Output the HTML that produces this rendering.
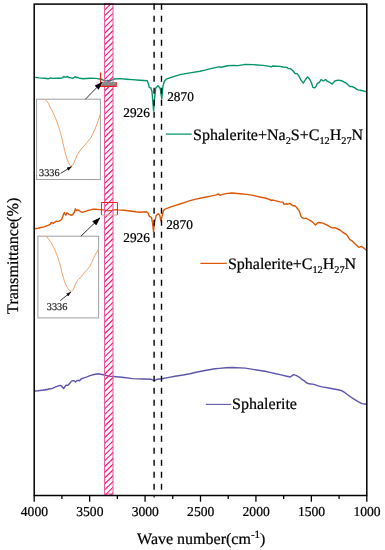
<!DOCTYPE html><html><head><meta charset="utf-8"><title>FTIR spectra</title><style>html,body{margin:0;padding:0;background:#fff;}svg{display:block;text-rendering:geometricPrecision;}</style></head><body><svg width="385" height="550" viewBox="0 0 385 550"><defs><clipPath id="band"><rect x="104.6" y="3.75" width="8.4" height="491.5"/></clipPath><marker id="ah" viewBox="0 0 10 7" refX="9.5" refY="3.5" markerWidth="8.4" markerHeight="5.9" orient="auto" markerUnits="userSpaceOnUse"><path d="M0,0 L10,3.5 L0,7 z" fill="#000"/></marker><marker id="ahs" viewBox="0 0 10 7" refX="9.5" refY="3.5" markerWidth="5.2" markerHeight="3.64" orient="auto" markerUnits="userSpaceOnUse"><path d="M0,0 L10,3.5 L0,7 z" fill="#111"/></marker></defs><rect width="385" height="550" fill="#fff"/><polyline points="35.0,77.4 39.2,77.9 44.4,78.2 48.6,78.7 50.7,77.9 52.7,78.4 56.9,78.2 60.5,78.3 62.0,77.9 64.0,76.5 65.5,77.3 67.0,76.5 69.0,77.5 71.0,77.9 73.0,78.3 75.0,76.7 76.5,77.7 77.5,77.3 80.0,78.3 83.0,78.8 90.0,78.3 96.0,78.4 101.2,79.2 103.1,80.0 106.2,81.1 107.8,80.3 109.9,81.1 112.0,79.8 114.5,79.0 120.0,78.6 126.6,79.2 132.0,79.6 140.0,80.3 147.2,80.8 148.6,84.5 149.3,87.4 150.9,88.0 152.0,91.8 153.6,110.9 154.7,97.3 155.8,88.0 158.0,85.8 160.2,88.5 161.8,98.9 162.9,86.4 164.4,81.3 166.2,79.2 170.4,77.7 180.0,74.6 190.0,72.9 200.0,71.3 205.0,70.1 210.6,68.6 217.7,67.1 219.0,66.6 221.0,67.3 227.5,65.8 234.0,65.4 238.0,65.6 245.5,64.4 253.0,64.6 263.0,65.4 270.0,66.4 271.0,67.0 272.5,66.0 280.0,66.4 283.0,67.0 287.0,67.4 288.0,68.4 290.6,68.8 293.2,71.0 295.1,73.6 297.1,73.6 299.0,76.2 301.0,80.1 303.3,83.1 305.5,79.5 307.5,76.9 309.4,78.8 311.4,82.7 312.9,87.3 314.6,87.9 315.9,86.6 317.2,83.4 319.2,82.7 321.1,79.5 323.1,81.0 325.7,79.5 327.6,81.4 329.6,82.3 332.2,84.0 334.8,81.0 338.2,80.1 342.0,80.8 346.0,83.1 349.9,86.6 351.8,86.4 354.4,87.7 357.7,89.9 361.6,90.5 366.1,91.6" fill="none" stroke="#04956a" stroke-width="1.4" stroke-linejoin="round"/><polyline points="35.0,228.8 38.0,228.2 42.0,227.3 44.0,226.9 46.0,226.1 48.0,225.3 50.2,224.4 51.0,222.7 52.0,222.8 53.5,223.2 55.0,222.2 56.0,221.1 57.5,221.5 59.0,221.1 60.5,220.3 61.5,219.4 62.5,217.3 63.5,214.4 64.3,212.4 65.8,215.2 67.0,212.8 68.7,214.1 71.2,215.3 72.8,214.5 74.5,212.0 75.3,208.8 76.6,210.7 78.2,209.9 80.0,211.2 82.0,212.4 84.5,211.6 87.0,210.8 90.3,209.9 93.0,209.2 95.0,209.2 100.0,209.6 104.0,209.9 108.0,210.9 112.0,210.4 116.0,209.6 118.0,209.9 124.0,210.3 130.0,211.0 136.0,211.8 140.0,212.2 146.2,211.8 147.8,212.7 149.4,216.3 150.4,216.8 151.5,217.4 152.5,223.0 153.5,231.4 154.6,222.0 156.1,215.8 158.2,213.7 159.8,215.3 160.8,221.0 162.4,214.8 163.4,210.6 165.5,208.8 171.0,206.8 175.0,205.6 180.0,204.0 185.0,202.3 190.0,200.6 196.0,199.1 205.0,197.3 212.0,195.9 216.5,194.9 218.2,193.9 220.0,195.3 222.0,194.6 225.8,193.6 232.0,193.0 240.0,193.8 247.0,194.4 253.0,195.4 260.0,197.0 265.0,198.0 270.0,199.5 271.0,200.6 272.0,200.0 275.0,200.6 280.0,201.9 283.0,202.3 284.0,204.4 286.0,203.8 288.0,204.2 290.0,203.4 292.0,205.1 294.0,206.0 295.0,205.6 297.0,208.0 299.0,210.6 300.0,213.2 301.0,216.4 302.0,217.7 304.0,218.6 306.0,218.1 307.5,219.0 310.0,220.3 312.0,221.6 314.0,223.6 315.5,224.9 318.0,222.5 322.0,222.9 325.0,224.2 328.0,225.5 330.0,226.8 332.3,228.0 334.9,227.6 340.0,230.0 342.1,231.8 346.6,234.7 349.9,239.6 352.5,241.2 355.7,244.4 358.7,247.3 361.3,246.4 364.2,248.3 366.4,250.3" fill="none" stroke="#dc5806" stroke-width="1.4" stroke-linejoin="round"/><polyline points="35.0,391.0 38.0,390.8 42.0,390.3 43.5,389.8 45.0,390.2 46.0,389.3 47.0,389.8 48.0,389.2 50.0,388.7 51.0,388.9 53.0,388.1 55.0,387.2 57.0,386.4 59.0,385.6 60.0,385.3 61.5,386.0 63.5,388.5 66.0,385.3 67.5,385.3 68.5,384.8 70.0,383.0 71.5,381.1 73.0,380.6 74.5,380.9 75.5,382.0 77.0,380.6 78.5,380.3 79.5,380.9 81.0,379.0 84.0,377.8 87.0,376.9 90.0,375.7 94.0,374.5 98.0,373.8 103.3,374.8 109.0,376.1 116.5,376.7 124.0,377.5 132.4,378.6 142.8,379.0 151.1,379.3 154.3,380.6 157.4,379.2 161.5,378.7 167.8,377.6 175.0,376.2 183.0,375.0 190.0,373.7 196.0,372.3 205.0,370.5 215.0,368.8 219.4,368.4 226.0,367.7 232.3,367.5 245.3,368.1 258.3,370.3 265.0,371.3 270.0,372.4 275.9,373.8 280.0,374.6 286.8,376.2 290.3,377.0 293.5,374.6 296.0,375.4 300.0,377.7 302.2,379.6 304.0,380.6 306.0,382.5 309.0,383.8 314.0,384.4 318.0,385.8 322.0,386.9 330.0,388.3 338.0,389.8 342.0,390.8 345.0,392.7 350.0,396.5 354.0,399.2 358.0,401.7 362.0,403.6 366.3,404.2" fill="none" stroke="#5e56ac" stroke-width="1.4" stroke-linejoin="round"/><g clip-path="url(#band)" stroke="#f0187a" stroke-width="1.15"><line x1="103.3" y1="-5.94" x2="114.5" y2="-17.14"/><line x1="103.3" y1="-0.16" x2="114.5" y2="-11.36"/><line x1="103.3" y1="5.62" x2="114.5" y2="-5.58"/><line x1="103.3" y1="11.40" x2="114.5" y2="0.20"/><line x1="103.3" y1="17.18" x2="114.5" y2="5.98"/><line x1="103.3" y1="22.96" x2="114.5" y2="11.76"/><line x1="103.3" y1="28.74" x2="114.5" y2="17.54"/><line x1="103.3" y1="34.52" x2="114.5" y2="23.32"/><line x1="103.3" y1="40.30" x2="114.5" y2="29.10"/><line x1="103.3" y1="46.08" x2="114.5" y2="34.88"/><line x1="103.3" y1="51.86" x2="114.5" y2="40.66"/><line x1="103.3" y1="57.64" x2="114.5" y2="46.44"/><line x1="103.3" y1="63.42" x2="114.5" y2="52.22"/><line x1="103.3" y1="69.20" x2="114.5" y2="58.00"/><line x1="103.3" y1="74.98" x2="114.5" y2="63.78"/><line x1="103.3" y1="80.76" x2="114.5" y2="69.56"/><line x1="103.3" y1="86.54" x2="114.5" y2="75.34"/><line x1="103.3" y1="92.32" x2="114.5" y2="81.12"/><line x1="103.3" y1="98.10" x2="114.5" y2="86.90"/><line x1="103.3" y1="103.88" x2="114.5" y2="92.68"/><line x1="103.3" y1="109.66" x2="114.5" y2="98.46"/><line x1="103.3" y1="115.44" x2="114.5" y2="104.24"/><line x1="103.3" y1="121.22" x2="114.5" y2="110.02"/><line x1="103.3" y1="127.00" x2="114.5" y2="115.80"/><line x1="103.3" y1="132.78" x2="114.5" y2="121.58"/><line x1="103.3" y1="138.56" x2="114.5" y2="127.36"/><line x1="103.3" y1="144.34" x2="114.5" y2="133.14"/><line x1="103.3" y1="150.12" x2="114.5" y2="138.92"/><line x1="103.3" y1="155.90" x2="114.5" y2="144.70"/><line x1="103.3" y1="161.68" x2="114.5" y2="150.48"/><line x1="103.3" y1="167.46" x2="114.5" y2="156.26"/><line x1="103.3" y1="173.24" x2="114.5" y2="162.04"/><line x1="103.3" y1="179.02" x2="114.5" y2="167.82"/><line x1="103.3" y1="184.80" x2="114.5" y2="173.60"/><line x1="103.3" y1="190.58" x2="114.5" y2="179.38"/><line x1="103.3" y1="196.36" x2="114.5" y2="185.16"/><line x1="103.3" y1="202.14" x2="114.5" y2="190.94"/><line x1="103.3" y1="207.92" x2="114.5" y2="196.72"/><line x1="103.3" y1="213.70" x2="114.5" y2="202.50"/><line x1="103.3" y1="219.48" x2="114.5" y2="208.28"/><line x1="103.3" y1="225.26" x2="114.5" y2="214.06"/><line x1="103.3" y1="231.04" x2="114.5" y2="219.84"/><line x1="103.3" y1="236.82" x2="114.5" y2="225.62"/><line x1="103.3" y1="242.60" x2="114.5" y2="231.40"/><line x1="103.3" y1="248.38" x2="114.5" y2="237.18"/><line x1="103.3" y1="254.16" x2="114.5" y2="242.96"/><line x1="103.3" y1="259.94" x2="114.5" y2="248.74"/><line x1="103.3" y1="265.72" x2="114.5" y2="254.52"/><line x1="103.3" y1="271.50" x2="114.5" y2="260.30"/><line x1="103.3" y1="277.28" x2="114.5" y2="266.08"/><line x1="103.3" y1="283.06" x2="114.5" y2="271.86"/><line x1="103.3" y1="288.84" x2="114.5" y2="277.64"/><line x1="103.3" y1="294.62" x2="114.5" y2="283.42"/><line x1="103.3" y1="300.40" x2="114.5" y2="289.20"/><line x1="103.3" y1="306.18" x2="114.5" y2="294.98"/><line x1="103.3" y1="311.96" x2="114.5" y2="300.76"/><line x1="103.3" y1="317.74" x2="114.5" y2="306.54"/><line x1="103.3" y1="323.52" x2="114.5" y2="312.32"/><line x1="103.3" y1="329.30" x2="114.5" y2="318.10"/><line x1="103.3" y1="335.08" x2="114.5" y2="323.88"/><line x1="103.3" y1="340.86" x2="114.5" y2="329.66"/><line x1="103.3" y1="346.64" x2="114.5" y2="335.44"/><line x1="103.3" y1="352.42" x2="114.5" y2="341.22"/><line x1="103.3" y1="358.20" x2="114.5" y2="347.00"/><line x1="103.3" y1="363.98" x2="114.5" y2="352.78"/><line x1="103.3" y1="369.76" x2="114.5" y2="358.56"/><line x1="103.3" y1="375.54" x2="114.5" y2="364.34"/><line x1="103.3" y1="381.32" x2="114.5" y2="370.12"/><line x1="103.3" y1="387.10" x2="114.5" y2="375.90"/><line x1="103.3" y1="392.88" x2="114.5" y2="381.68"/><line x1="103.3" y1="398.66" x2="114.5" y2="387.46"/><line x1="103.3" y1="404.44" x2="114.5" y2="393.24"/><line x1="103.3" y1="410.22" x2="114.5" y2="399.02"/><line x1="103.3" y1="416.00" x2="114.5" y2="404.80"/><line x1="103.3" y1="421.78" x2="114.5" y2="410.58"/><line x1="103.3" y1="427.56" x2="114.5" y2="416.36"/><line x1="103.3" y1="433.34" x2="114.5" y2="422.14"/><line x1="103.3" y1="439.12" x2="114.5" y2="427.92"/><line x1="103.3" y1="444.90" x2="114.5" y2="433.70"/><line x1="103.3" y1="450.68" x2="114.5" y2="439.48"/><line x1="103.3" y1="456.46" x2="114.5" y2="445.26"/><line x1="103.3" y1="462.24" x2="114.5" y2="451.04"/><line x1="103.3" y1="468.02" x2="114.5" y2="456.82"/><line x1="103.3" y1="473.80" x2="114.5" y2="462.60"/><line x1="103.3" y1="479.58" x2="114.5" y2="468.38"/><line x1="103.3" y1="485.36" x2="114.5" y2="474.16"/><line x1="103.3" y1="491.14" x2="114.5" y2="479.94"/><line x1="103.3" y1="496.92" x2="114.5" y2="485.72"/><line x1="103.3" y1="502.70" x2="114.5" y2="491.50"/><line x1="103.3" y1="508.48" x2="114.5" y2="497.28"/></g><rect x="104.6" y="3.75" width="8.4" height="490.3" fill="none" stroke="#f0509e" stroke-width="1.0"/><line x1="154.1" y1="3.8" x2="154.1" y2="495" stroke="#000" stroke-width="1.4" stroke-dasharray="6 6"/><line x1="161.5" y1="3.8" x2="161.5" y2="495" stroke="#000" stroke-width="1.4" stroke-dasharray="6 6"/><line x1="154.1" y1="495.5" x2="154.1" y2="497.4" stroke="#000" stroke-width="1.2"/><rect x="101.5" y="82.1" width="14.4" height="4.1" fill="#8a8a8a"/><polyline points="100.6,72.5 100.6,86.4 116.2,86.4 116.2,82.1" fill="none" stroke="#ee1c1c" stroke-width="1.1"/><polyline points="101.45,215 101.45,202.5 117.45,202.5 117.45,215" fill="none" stroke="#ee1c1c" stroke-width="1.0"/><line x1="101.45" y1="215" x2="117.45" y2="215" stroke="#c8a0a4" stroke-width="1.0"/><rect x="36.6" y="99.2" width="63.8" height="80.3" fill="#fff" stroke="#a0a0a0" stroke-width="1"/><polyline points="45.0,99.1 48.3,103.2 51.4,109.4 54.5,115.7 56.6,120.9 58.7,127.1 60.3,132.3 61.8,138.0 63.2,144.0 64.8,151.2 66.5,157.5 68.5,162.5 70.0,165.4 71.0,166.2 72.3,165.6 74.1,162.5 75.7,158.5 77.2,155.0 80.4,150.0 83.0,147.0 86.0,143.8 91.0,137.5 93.5,132.5 95.5,128.0 98.0,121.0 100.4,114.3" fill="none" stroke="#f2a36a" stroke-width="1"/><rect x="37.9" y="236.2" width="60.7" height="81.7" fill="#fff" stroke="#a0a0a0" stroke-width="1"/><polyline points="46.2,236.2 48.5,239.0 50.9,242.2 53.3,246.8 55.6,251.6 57.6,256.8 59.5,262.5 61.1,268.8 62.6,275.0 64.1,280.2 65.7,284.3 67.2,287.3 68.8,289.7 70.2,291.0 71.2,291.3 72.4,290.6 73.5,289.0 75.0,285.5 76.6,282.0 78.5,279.4 80.5,277.3 85.2,271.8 89.8,266.4 91.8,262.4 93.7,257.8 96.0,253.3 98.4,249.2" fill="none" stroke="#f2a36a" stroke-width="1"/><line x1="85.3" y1="99.3" x2="102.2" y2="82" stroke="#333" stroke-width="1.0" marker-end="url(#ah)"/><line x1="80.9" y1="236.2" x2="100" y2="217.8" stroke="#333" stroke-width="1.0" marker-end="url(#ah)"/><line x1="60.6" y1="173.4" x2="71.7" y2="166.6" stroke="#222" stroke-width="0.9" marker-end="url(#ahs)"/><line x1="60.3" y1="300.6" x2="71.0" y2="292.0" stroke="#222" stroke-width="0.9" marker-end="url(#ahs)"/><rect x="34.2" y="4.1" width="332.60" height="491.40" fill="none" stroke="#000" stroke-width="1.5"/><line x1="34.20" y1="495.5" x2="34.20" y2="501.70" stroke="#000" stroke-width="1.3"/><line x1="61.92" y1="495.5" x2="61.92" y2="498.90" stroke="#000" stroke-width="1.3"/><line x1="89.63" y1="495.5" x2="89.63" y2="501.70" stroke="#000" stroke-width="1.3"/><line x1="117.35" y1="495.5" x2="117.35" y2="498.90" stroke="#000" stroke-width="1.3"/><line x1="145.07" y1="495.5" x2="145.07" y2="501.70" stroke="#000" stroke-width="1.3"/><line x1="172.78" y1="495.5" x2="172.78" y2="498.90" stroke="#000" stroke-width="1.3"/><line x1="200.50" y1="495.5" x2="200.50" y2="501.70" stroke="#000" stroke-width="1.3"/><line x1="228.22" y1="495.5" x2="228.22" y2="498.90" stroke="#000" stroke-width="1.3"/><line x1="255.93" y1="495.5" x2="255.93" y2="501.70" stroke="#000" stroke-width="1.3"/><line x1="283.65" y1="495.5" x2="283.65" y2="498.90" stroke="#000" stroke-width="1.3"/><line x1="311.37" y1="495.5" x2="311.37" y2="501.70" stroke="#000" stroke-width="1.3"/><line x1="339.08" y1="495.5" x2="339.08" y2="498.90" stroke="#000" stroke-width="1.3"/><line x1="366.80" y1="495.5" x2="366.80" y2="501.70" stroke="#000" stroke-width="1.3"/><g font-family="&quot;Liberation Serif&quot;, serif" font-size="13.6" fill="#000" stroke="#000" stroke-width="0.22" text-anchor="middle"><text x="34.40" y="515.7">4000</text><text x="89.83" y="515.7">3500</text><text x="145.27" y="515.7">3000</text><text x="200.70" y="515.7">2500</text><text x="256.13" y="515.7">2000</text><text x="311.57" y="515.7">1500</text><text x="367.00" y="515.7">1000</text></g><text x="137.1" y="543.7" font-family="&quot;Liberation Serif&quot;, serif" font-size="16" fill="#000" stroke="#000" stroke-width="0.22">Wave number(cm<tspan font-size="11" dy="-6">-1</tspan><tspan dy="6">)</tspan></text><text transform="translate(18.4,313.9) rotate(-90)" font-family="&quot;Liberation Serif&quot;, serif" font-size="16.2" fill="#000" stroke="#000" stroke-width="0.22">Transmittance(%)</text><g font-family="&quot;Liberation Serif&quot;, serif" font-size="13.3" fill="#000" stroke="#000" stroke-width="0.22"><text x="123.3" y="116.9">2926</text><text x="167.2" y="101.3">2870</text><text x="123.3" y="241.9">2926</text><text x="166.2" y="228.6">2870</text></g><g font-family="&quot;Liberation Serif&quot;, serif" font-size="10.3" fill="#222" stroke="#222" stroke-width="0.2"><text x="39" y="176">3336</text><text x="46.8" y="310.4">3336</text></g><line x1="165.9" y1="134.1" x2="191.7" y2="134.1" stroke="#04956a" stroke-width="1.25"/><line x1="200.4" y1="263.4" x2="226.8" y2="263.4" stroke="#dc5806" stroke-width="1.25"/><line x1="205.8" y1="404.4" x2="231.3" y2="404.4" stroke="#5e56ac" stroke-width="1.1"/><g font-family="&quot;Liberation Serif&quot;, serif" font-size="16" fill="#000" stroke="#000" stroke-width="0.22"><text x="193.1" y="139.5">Sphalerite+Na<tspan font-size="10.3" dy="4.2">2</tspan><tspan dy="-4.2">S+C</tspan><tspan font-size="10.3" dy="4.2">12</tspan><tspan dy="-4.2">H</tspan><tspan font-size="10.3" dy="4.2">27</tspan><tspan dy="-4.2">N</tspan></text><text x="227.9" y="268.6">Sphalerite+C<tspan font-size="10.3" dy="4.2">12</tspan><tspan dy="-4.2">H</tspan><tspan font-size="10.3" dy="4.2">27</tspan><tspan dy="-4.2">N</tspan></text><text x="232.1" y="409.2">Sphalerite</text></g></svg></body></html>
